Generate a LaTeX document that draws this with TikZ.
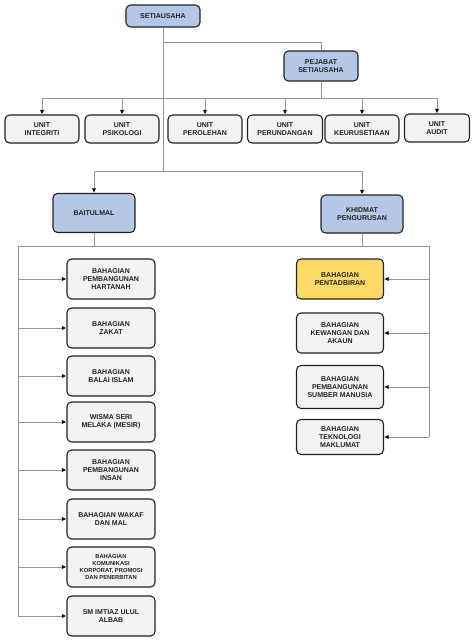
\documentclass[tikz,border=0pt]{standalone}
\usepackage{fontspec}
\setmainfont{Liberation Sans}
\usetikzlibrary{arrows.meta}
\definecolor{bluebox}{HTML}{B4C7E7}
\definecolor{graybox}{HTML}{F3F3F3}
\definecolor{yellowbox}{HTML}{FFD966}
\definecolor{linegray}{HTML}{959595}
\definecolor{edge}{HTML}{222222}
\tikzset{
  box/.style={draw=edge, line width=1.1pt, rounded corners=4.5pt, align=center,
    font=\fontsize{7}{8}\selectfont\bfseries, text=edge, inner sep=1pt},
  bluen/.style={box, fill=bluebox},
  grayn/.style={box, fill=graybox},
  yelln/.style={box, fill=yellowbox},
  conn/.style={draw=linegray, line width=0.9pt},
  arr/.style={conn, -{Latex[length=4.5pt,width=4.2pt,color=black]}},
}
\begin{document}
\begin{tikzpicture}[x=1pt,y=-1pt]
\useasboundingbox (0,0) rectangle (474,643);
% top
\node[bluen, minimum width=74pt, minimum height=22pt] (setia) at (163,16) {SETIAUSAHA};
\node[bluen, minimum width=74pt, minimum height=30pt] (pej) at (321,66) {PEJABAT\\SETIAUSAHA};
% units
\node[grayn, minimum width=74pt, minimum height=28pt] (u1) at (42,129) {UNIT\\INTEGRITI};
\node[grayn, minimum width=74pt, minimum height=28pt] (u2) at (122,129) {UNIT\\PSIKOLOGI};
\node[grayn, minimum width=74pt, minimum height=28pt] (u3) at (205,129) {UNIT\\PEROLEHAN};
\node[grayn, minimum width=75pt, minimum height=28pt] (u4) at (285,129) {UNIT\\PERUNDANGAN};
\node[grayn, minimum width=74pt, minimum height=28pt] (u5) at (362,129) {UNIT\\KEURUSETIAAN};
\node[grayn, minimum width=65pt, minimum height=28pt] (u6) at (437,128) {UNIT\\AUDIT};
% second level
\node[bluen, minimum width=82pt, minimum height=39pt] (bait) at (94,213) {BAITULMAL};
\node[bluen, minimum width=82pt, minimum height=38pt] (khid) at (362,214) {KHIDMAT\\PENGURUSAN};
% left column
\tikzset{lb/.style={grayn, minimum width=88pt, minimum height=40pt}}
\node[lb] (l1) at (111,279) {BAHAGIAN\\PEMBANGUNAN\\HARTANAH};
\node[lb] (l2) at (111,328) {BAHAGIAN\\ZAKAT};
\node[lb] (l3) at (111,376) {BAHAGIAN\\BALAI ISLAM};
\node[lb] (l4) at (111,422) {WISMA SERI\\MELAKA (MESIR)};
\node[lb] (l5) at (111,470) {BAHAGIAN\\PEMBANGUNAN\\INSAN};
\node[lb] (l6) at (111,519) {BAHAGIAN WAKAF\\DAN MAL};
\node[lb, font=\fontsize{5.8}{7}\selectfont\bfseries] (l7) at (111,567) {BAHAGIAN\\KOMUNIKASI\\KORPORAT, PROMOSI\\DAN PENERBITAN};
\node[lb] (l8) at (111,616) {SM IMTIAZ ULUL\\ALBAB};
% right column
\node[yelln, minimum width=87pt, minimum height=40pt] (r1) at (340,279) {BAHAGIAN\\PENTADBIRAN};
\node[grayn, minimum width=87pt, minimum height=40pt] (r2) at (340,333) {BAHAGIAN\\KEWANGAN DAN\\AKAUN};
\node[grayn, minimum width=87pt, minimum height=43pt] (r3) at (340,387) {BAHAGIAN\\PEMBANGUNAN\\SUMBER MANUSIA};
\node[grayn, minimum width=87pt, minimum height=35pt] (r4) at (340,437) {BAHAGIAN\\TEKNOLOGI\\MAKLUMAT};
% bus coordinates
\coordinate (busA) at (0,42);
\coordinate (busU) at (0,98);
\coordinate (busB) at (0,171);
\coordinate (busC) at (0,246);
\coordinate (leftx) at (18,0);
\coordinate (rightx) at (429,0);
% connectors
\draw[conn] (setia.south) -- (setia.south |- busB);
\draw[conn] (setia.south |- busA) -| (pej.north);
\draw[conn] (pej.south) -- (pej.south |- busU);
\draw[conn] (u1.north |- busU) -- (u6.north |- busU);
\foreach \u in {u1,u2,u3,u4,u5,u6}{
  \draw[arr] (\u.north |- busU) -- (\u.north);
}
\draw[conn] (bait.north |- busB) -- (khid.north |- busB);
\draw[arr] (bait.north |- busB) -- (bait.north);
\draw[arr] (khid.north |- busB) -- (khid.north);
\draw[conn] (bait.south) -- (bait.south |- busC);
\draw[conn] (khid.south) -- (khid.south |- busC);
\draw[conn] (leftx |- busC) -- (rightx |- busC);
\draw[conn] (leftx |- busC) -- (leftx |- l8.west);
\foreach \b in {l1,l2,l3,l4,l5,l6,l7,l8}{
  \draw[arr] (leftx |- \b.west) -- (\b.west);
}
\draw[conn] (rightx |- busC) -- (rightx |- r4.east);
\foreach \b in {r1,r2,r3,r4}{
  \draw[arr] (rightx |- \b.east) -- (\b.east);
}
\end{tikzpicture}
\end{document}
